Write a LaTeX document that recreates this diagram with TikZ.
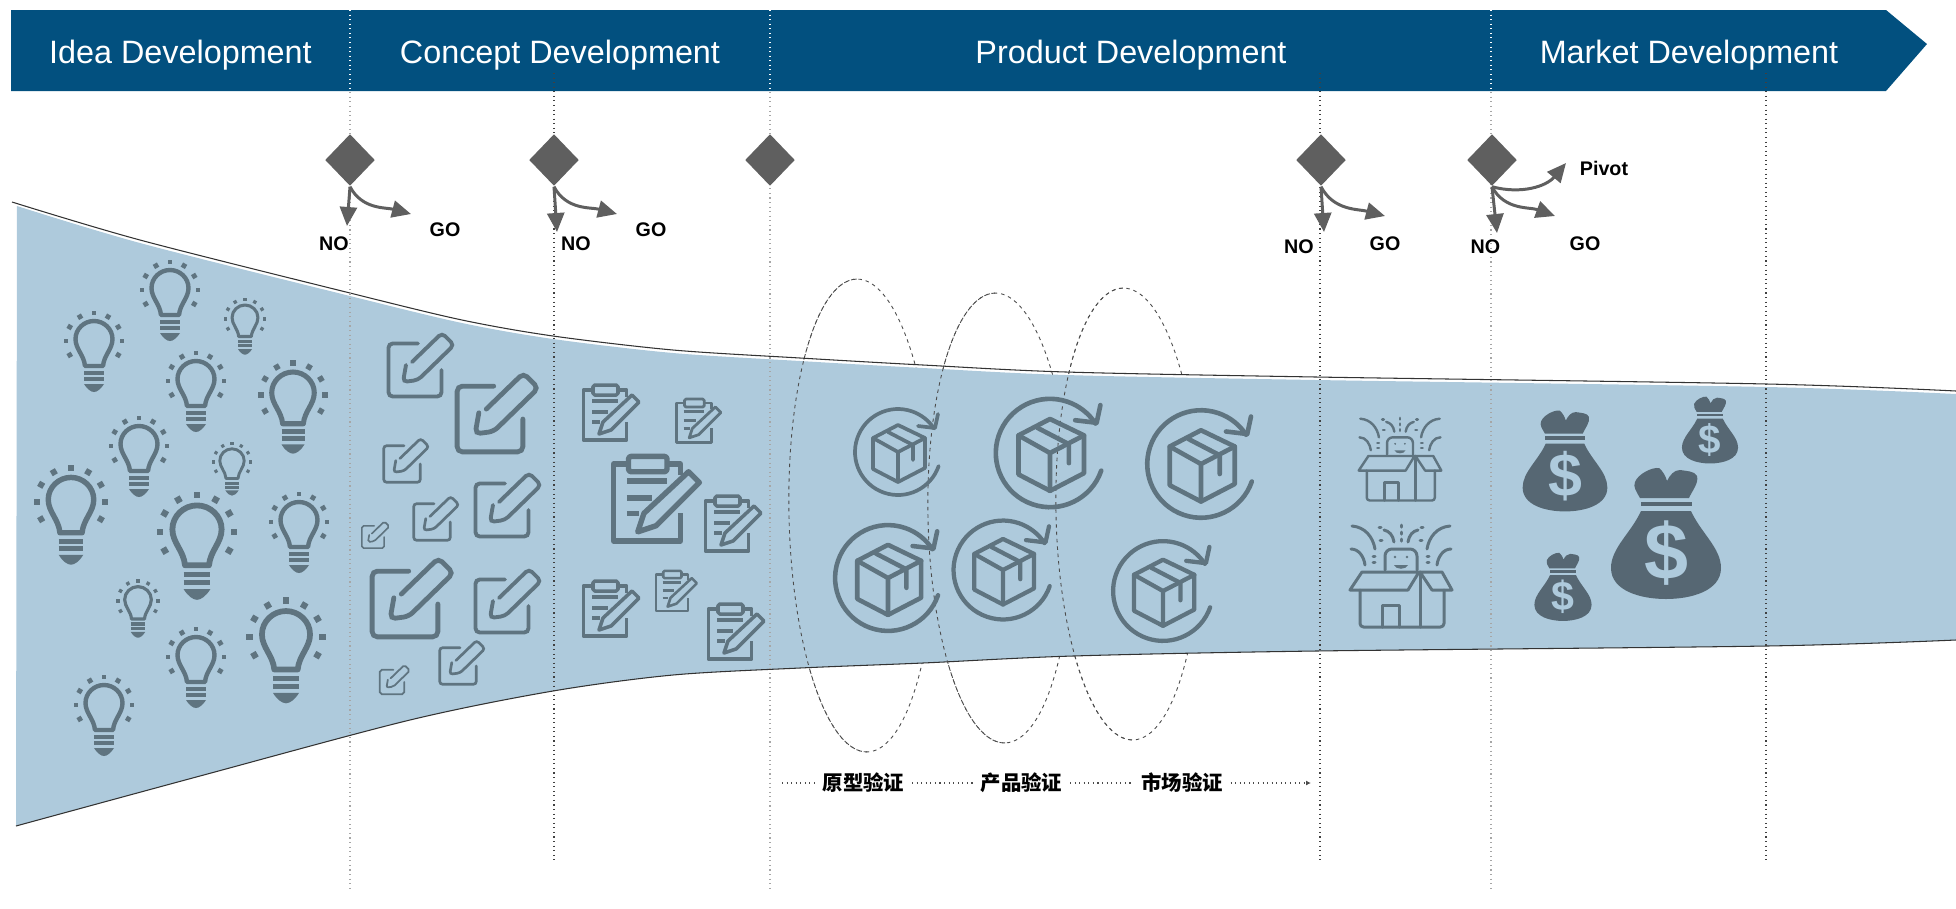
\documentclass[tikz,border=0pt]{standalone}
\usepackage{fontspec}
\setmainfont{Liberation Sans}
\newfontfamily\cjk{Noto Sans CJK SC}
\usepackage{xcolor}
\usetikzlibrary{arrows.meta,shapes.geometric}
\definecolor{headblue}{HTML}{02507F}
\definecolor{funnelblue}{HTML}{AECADC}
\definecolor{icongrey}{HTML}{5F7480}
\definecolor{baggrey}{HTML}{566773}
\definecolor{gategrey}{HTML}{5F5F5F}
\begin{document}
\begin{tikzpicture}[
  x=0.01cm,y=-0.01cm,
  stage/.style={anchor=base,text=white,font=\fontsize{9.2pt}{11pt}\selectfont},
  gate/.style={diamond,fill=gategrey,aspect=1,inner sep=0pt,minimum width=0.5cm,minimum height=0.52cm},
  arr/.style={-{Triangle[length=0.19cm,width=0.17cm]},gategrey,line width=0.85pt},
  tag/.style={font=\fontsize{5.6pt}{7pt}\selectfont\bfseries,inner sep=0pt},
  check/.style={font=\fontsize{5.8pt}{7pt}\selectfont\cjk\bfseries,inner sep=2pt},
  flow/.style={-{Latex[length=0.05cm,width=0.05cm]},black!70,densely dotted,line width=0.3pt},
  guide/.style={black!35,densely dotted,line width=0.3pt},
  guidedark/.style={black!75,densely dotted,line width=0.3pt},
  sprint/.style={black!70,dash pattern=on 1pt off 1.1pt,line width=0.25pt},
  pics/bulb/.style={code={
    \begin{scope}[scale=#1,draw=icongrey,fill=icongrey,line width=#1*1.25pt]
      \draw[fill=none,line join=round] (-9,25) .. controls (-10,14) and (-18.5,8) .. (-18.5,-2) .. controls (-18.5,-12) and (-10,-20) .. (0,-20) .. controls (10,-20) and (18.5,-12) .. (18.5,-2) .. controls (18.5,8) and (10,14) .. (9,25) -- cycle;
      \draw (-10,32) -- (10,32) (-10,38) -- (10,38);
      \fill (-10,43) -- (10,43) .. controls (7,48) and (3,51) .. (0,51) .. controls (-3,51) and (-7,48) .. (-10,43) -- cycle;
      \foreach \a in {-150,-120,-90,-60,-30,0,30,150,180}
        \fill[shift={(\a:28)},rotate=-\a] (-2.4,-2.4) rectangle (2.4,2.4);
    \end{scope}}},
  pics/editbox/.style={code={
    \begin{scope}[scale=#1,draw=icongrey,line width=#1*1.1pt,rounded corners=#1*1.2pt,line cap=round]
      \draw (3,-26.5) -- (-26.5,-26.5) -- (-26.5,26.5) -- (26.5,26.5) -- (26.5,0);
      \draw (-3,-8) -- (27,-37) -- (39,-25) -- (3,10) -- (-12,12) -- (-9,-5);
    \end{scope}}},
  pics/clipnote/.style={code={
    \begin{scope}[scale=#1,draw=icongrey,line width=#1*1pt,line join=round]
      \draw (21.7,-17) -- (21.7,-24) -- (13,-24) (-12,-24) -- (-21.7,-24) -- (-21.7,26) -- (21.7,26) -- (21.7,8);
      \draw[rounded corners=#1*0.5pt] (-12,-29) rectangle (13,-19);
      \draw (-13,-13) -- (13,-13) (-13,-2) -- (3,-2) (-13,8) -- (-5,8);
      \draw (-6,20) -- (-2,8) -- (27,-19) -- (34,-12) -- (6,16) -- cycle;
    \end{scope}}},
  pics/boxcycle/.style={code={
    \begin{scope}[scale=#1,draw=icongrey,line width=#1*1.05pt,line join=round,line cap=round]
      \draw (19:43) arc[start angle=19,end angle=327,radius=43];
      \draw (20,-26) -- (37,-24) -- (40,-38);
      \draw (0,-27) -- (27,-14) -- (27,16) -- (0,30) -- (-25,17) -- (-25,-14) -- cycle;
      \draw (-25,-14) -- (0,0) -- (27,-14) (0,0) -- (0,30);
      \draw (-10,-20) -- (15,-7) -- (15,8);
    \end{scope}}},
  pics/popshop/.style={code={
    \begin{scope}[scale=#1,draw=icongrey,line width=#1*0.85pt,line join=round,line cap=round]
      \draw[rounded corners=#1*1pt] (-41,13) -- (-41,50) -- (43,50) -- (43,13);
      \draw (-51,13) -- (-39,-5) -- (18,-5) -- (7,13) -- cycle;
      \draw (19,-5) -- (41,-5) -- (51,13) -- (31,13) -- cycle;
      \draw (19,-5) -- (19,50);
      \draw (-19,50) -- (-19,28) -- (-2,28) -- (-2,50);
      \draw[rounded corners=#1*2pt] (-16,-7) -- (-16,-28) -- (16,-28) -- (16,-7);
      \fill[icongrey] (-6,-20) circle (1.3) (6,-20) circle (1.3);
      \fill[icongrey] (-7,-12) -- (7,-12) .. controls (5,-7) and (-5,-7) .. (-7,-12) -- cycle;
      \draw (0,-52) -- (0,-50) (0,-45) -- (0,-43) (0,-38) -- (0,-36);
      \foreach \m in {-1,1} {
        \begin{scope}[xscale=\m]
          \draw (50,-28) .. controls (42,-28) and (37,-20) .. (36,-12);
          \draw (49,-51) .. controls (36,-50) and (28,-40) .. (26,-28);
          \draw (17,-47) .. controls (12,-46) and (8,-42) .. (7,-35);
          \draw (20,-50) -- (22,-50) (19,-37) -- (21,-37) (26,-21) -- (28,-21) (26,-15) -- (28,-15);
        \end{scope}
      }
    \end{scope}}},
  pics/moneybag/.style={code={
    \begin{scope}[scale=#1,fill=baggrey]
      \fill (-25,-42) .. controls (-35,-20) and (-55,-5) .. (-55,15) .. controls (-55,38) and (-25,46) .. (0,46) .. controls (25,46) and (55,38) .. (55,15) .. controls (55,-5) and (35,-20) .. (25,-42) -- cycle;
      \fill (-25.5,-51.5) rectangle (25.5,-47);
      \fill (-26,-55) .. controls (-30,-62) and (-33,-66) .. (-31,-71) .. controls (-28,-79) and (-14,-86) .. (-7,-85) .. controls (-3,-82) and (0,-76) .. (1,-72) .. controls (4,-78) and (8,-83) .. (14,-83) .. controls (20,-82) and (29,-82) .. (31,-77) .. controls (33,-70) and (26,-62) .. (23,-55) -- cycle;
      \node[transform shape,text=funnelblue,inner sep=0pt,font=\fontsize{22.5pt}{24pt}\selectfont\bfseries] at (0,0) {\$};
    \end{scope}}}
]
\useasboundingbox (0,0) rectangle (1956,908);
\draw[sprint,shift={(862,515.5)},rotate=1.3] (0,0) ellipse [x radius=73,y radius=236.5];
\draw[sprint,shift={(1000,518)},rotate=1.3] (0,0) ellipse [x radius=72,y radius=225];
\draw[sprint,shift={(1128,514)},rotate=1.3] (0,0) ellipse [x radius=72,y radius=226];
\fill[funnelblue] (17,206) -- plot[smooth,tension=0.5] coordinates {(17,206) (140,243) (350,296) (462,323) (553,339) (673,353) (800,361) (923,368) (1066,375) (1316,380) (1767,387) (1956,394)} -- plot[smooth,tension=0.5] coordinates {(1956,640) (1767,646) (1316,651) (1073,656) (923,663) (800,668) (673,675) (553,691) (410,720) (200,776) (16,826)} -- cycle;
\draw[black!80,line width=0.3pt] plot[smooth,tension=0.5] coordinates {(12,202) (140,240) (350,293) (462,320) (553,336) (673,350) (800,358) (923,365) (1066,372) (1316,377) (1767,384) (1956,391)};
\draw[black!80,line width=0.3pt] plot[smooth,tension=0.5] coordinates {(16,826) (200,776) (410,720) (553,691) (673,675) (800,668) (923,663) (1073,656) (1316,651) (1767,646) (1956,640)};
\draw[sprint,shift={(862,515.5)},rotate=1.3] (0,-236.5) arc[start angle=-90,end angle=-270,x radius=73,y radius=236.5];
\draw[sprint,shift={(1000,518)},rotate=1.3] (0,-225) arc[start angle=-90,end angle=-270,x radius=72,y radius=225];
\draw[sprint,shift={(1128,514)},rotate=1.3] (0,-226) arc[start angle=-90,end angle=-270,x radius=72,y radius=226];
\foreach \gx [count=\gi] in {350,770,1491} {
  \coordinate (lt\gi) at (\gx,10);
  \coordinate (lm\gi) at (\gx,91);
  \coordinate (lb\gi) at (\gx,892);
  \draw[guide] (lt\gi) -- (lb\gi);
}
\fill[headblue] (11,10) -- (1886,10) -- (1927,44) -- (1886,91) -- (11,91) -- cycle;
\foreach \gi in {1,2,3}
  \draw[guide,white] (lt\gi) -- (lm\gi);
\foreach \gx [count=\gi] in {554,1320,1766} {
  \coordinate (dt\gi) at (\gx,73);
  \coordinate (db\gi) at (\gx,863);
  \draw[guidedark] (dt\gi) -- (db\gi);
}
\node[stage] (idea) at (180.5,63) {Idea Development};
\node[stage] (concept) at (560,63) {Concept Development};
\node[stage] (product) at (1131,63) {Product Development};
\node[stage] (market) at (1689,63) {Market Development};
\node[gate] (g1) at (350,160) {};
\node[gate] (g2) at (554,160) {};
\node[gate] (g3) at (770,160) {};
\node[gate] (g4) at (1321,160) {};
\node[gate] (g5) at (1492,160) {};
\node[tag] (no1) at (334,244) {NO};
\node[tag] (go1) at (445,230) {GO};
\node[tag] (no2) at (576,244) {NO};
\node[tag] (go2) at (651,230) {GO};
\node[tag] (no4) at (1299,247) {NO};
\node[tag] (go4) at (1385,244) {GO};
\node[tag] (no5) at (1485.5,247) {NO};
\node[tag] (go5) at (1585,244) {GO};
\node[tag] (pivot) at (1604,168) {Pivot};
\coordinate (n1) at (347,226);
\coordinate (y1) at (411,214);
\coordinate (n2) at (557,232);
\coordinate (y2) at (617,214);
\coordinate (n4) at (1324,232);
\coordinate (y4) at (1385,216);
\coordinate (n5) at (1497,233);
\coordinate (y5) at (1555,216);
\coordinate (p5) at (1566,163);
\draw[arr] (g1.south) -- (n1);
\draw[arr] (g1.south) to[out=-62,in=165] (y1);
\draw[arr] (g2.south) -- (n2);
\draw[arr] (g2.south) to[out=-62,in=165] (y2);
\draw[arr] (g4.south) -- (n4);
\draw[arr] (g4.south) to[out=-62,in=165] (y4);
\draw[arr] (g5.south) -- (n5);
\draw[arr] (g5.south) to[out=-62,in=160] (y5);
\draw[arr] (g5.south) to[out=-15,in=-130] (p5);
\foreach \ix/\iy/\is in {170/290/1,94/341/1,245/319/0.7,196/381/1,293/395/1.15,139/446/1,232/462/0.66,71/502/1.23,197/532/1.33,299/522/1,138/601/0.72,196/657/1,286/637/1.3,104/705/1}
  \pic at (\ix,\iy) {bulb=\is};
\foreach \ix/\iy/\is in {415/370/1,490/419/1.24,402/464/0.69,432/522/0.69,502/510/1,373/537/0.42,405/604/1.24,502/606/1,458/666/0.69,392/682/0.46}
  \pic at (\ix,\iy) {editbox=\is};
\foreach \ix/\iy/\is in {605/414/1,694/422/0.79,647/501/1.54,727/525/1,605/610/1,672/592/0.73,730/633/1}
  \pic at (\ix,\iy) {clipnote=\is};
\foreach \ix/\iy/\is in {898/452/1,1050/453/1.26,1201/464/1.25,888/578/1.23,1003/570/1.15,1163/591/1.16}
  \pic at (\ix,\iy) {boxcycle=\is};
\pic at (1400,460) {popshop=0.81};
\pic at (1401,577) {popshop=1};
\foreach \ix/\iy/\is in {1666/553/1,1565/476/0.77,1710/440/0.51,1563/597/0.52}
  \pic at (\ix,\iy) {moneybag=\is};
\coordinate (start) at (782,783);
\coordinate (finish) at (1311,783);
\node[check] (proto) at (863.5,783) {原型验证};
\node[check] (prod) at (1021.5,783) {产品验证};
\node[check] (mkt) at (1182,783) {市场验证};
\draw[flow,-] (start) -- (proto);
\draw[flow,-] (proto) -- (prod);
\draw[flow,-] (prod) -- (mkt);
\draw[flow] (mkt) -- (finish);
\end{tikzpicture}
\end{document}
